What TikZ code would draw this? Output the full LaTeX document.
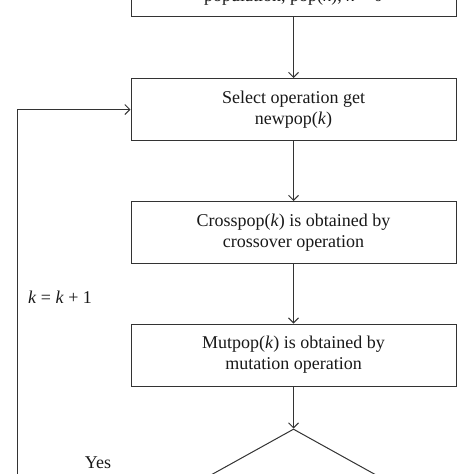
\documentclass[tikz,border=0pt]{standalone}
\usepackage{fontspec}
\setmainfont{Liberation Serif}
\usetikzlibrary{arrows.meta,shapes.geometric}
\begin{document}
\begin{tikzpicture}[x=1pt,y=1pt,
  every node/.style={font=\fontsize{18}{21}\selectfont, text=black!90},
  box/.style={draw=black!80, line width=1pt, rectangle, minimum width=325pt, minimum height=62pt, align=center, inner sep=0pt},
  dec/.style={draw=black!80, line width=1pt, diamond, aspect=1.8, minimum width=198pt, minimum height=110pt, inner sep=0pt},
  arr/.style={draw=black!80, line width=1pt, -{Straight Barb[length=5pt,width=10pt]}},
  lbl/.style={inner sep=0pt}]
\useasboundingbox (0,0) rectangle (474,-474);
\clip (0,0) rectangle (474,-474);
\fill[white] (0,0) rectangle (474,-474);
\node[box, anchor=south] (init) at (293.5,-17) {\strut\\population, pop(\textit{k}), \textit{k} = 0};
\node[box] (sel) at (293.5,-109.5) {Select operation get\\newpop(\textit{k})};
\node[box] (cross) at (293.5,-232.5) {Crosspop(\textit{k}) is obtained by\\crossover operation};
\node[box] (mut) at (293.5,-355) {Mutpop(\textit{k}) is obtained by\\mutation operation};
\node[dec] (cond) at (293.5,-484) {};
\coordinate (fb) at (17,-484);
\draw[arr] (init) -- (sel);
\draw[arr] (sel) -- (cross);
\draw[arr] (cross) -- (mut);
\draw[arr] (mut) -- (cond);
\draw[arr] (cond.west) -- (fb) |- (sel.west);
\node[lbl] (yes) at (98,-463) {Yes};
\node[lbl] (inc) at (60,-297) {\textit{k} = \textit{k} + 1};
\end{tikzpicture}
\end{document}
